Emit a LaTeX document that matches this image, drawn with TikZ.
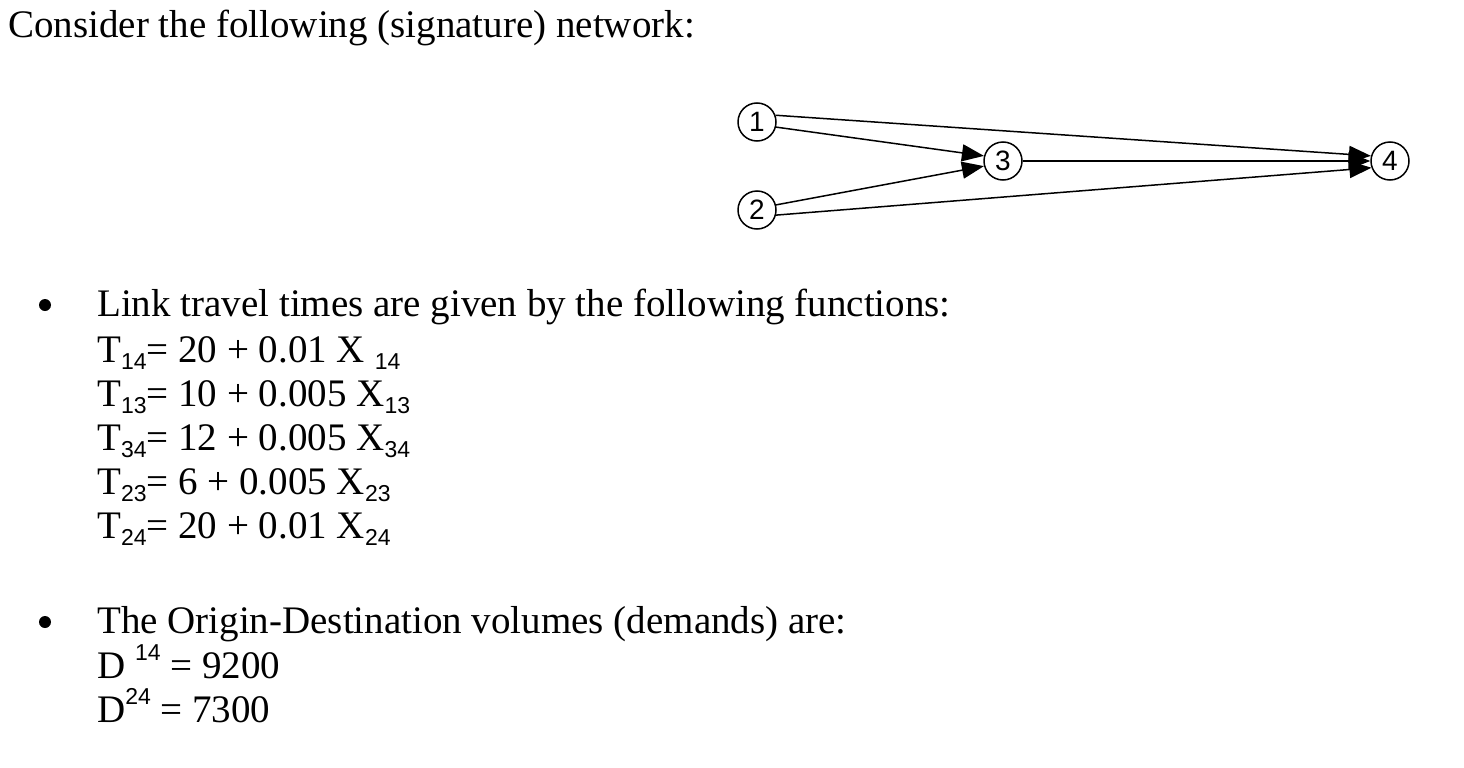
\documentclass[tikz,border=0pt]{standalone}
\usepackage{fontspec}
\setmainfont{Liberation Serif}
\newfontfamily\sans{Liberation Sans}
\usetikzlibrary{arrows.meta}
\newcommand{\mysb}[1]{\raisebox{-0.2em}{\sans\fontsize{23}{23}\selectfont #1}}
\newcommand{\mysp}[1]{\raisebox{0.45em}{\sans\fontsize{23}{23}\selectfont #1}}
\begin{document}
\begin{tikzpicture}[x=1pt,y=-1pt,
  nd/.style={circle,draw,line width=1.5pt,minimum size=38pt,inner sep=0pt,font=\sans\fontsize{28}{28}\selectfont},
  ar/.style={line width=1.5pt,-{Triangle[length=22pt,width=17pt]}},
  tx/.style={anchor=base west,inner sep=0pt,font=\fontsize{39}{39}\selectfont},
  bl/.style={circle,fill,inner sep=0pt,minimum size=12pt}]
\useasboundingbox (0,0) rectangle (1464,768);
\node[tx] (title) at (8,38) {Consider the following (signature) network:};
\node[nd] (n1) at (757,122) {1};
\node[nd] (n2) at (757,210) {2};
\node[nd] (n3) at (1003,161) {3};
\node[nd] (n4) at (1390,161) {4};
\draw[ar] (n1.20) -- (n4.165);
\draw[ar] (n1.-15) -- (n3.165);
\draw[ar] (n3.east) -- (n4.west);
\draw[ar] (n2.15) -- (n3.-165);
\draw[ar] (n2.-15) -- (n4.-160);
\node[bl] (b1) at (45,305) {};
\node[bl] (b2) at (45,622) {};
\node[tx] (l0) at (97,316) {Link travel times are given by the following functions:};
\node[tx] (l1) at (97,362) {T\mysb{14}= 20 + 0.01 X \mysb{14}};
\node[tx] (l2) at (97,406) {T\mysb{13}= 10 + 0.005 X\mysb{13}};
\node[tx] (l3) at (97,450) {T\mysb{34}= 12 + 0.005 X\mysb{34}};
\node[tx] (l4) at (97,494) {T\mysb{23}= 6 + 0.005 X\mysb{23}};
\node[tx] (l5) at (97,538) {T\mysb{24}= 20 + 0.01 X\mysb{24}};
\node[tx] (m0) at (97,633) {The Origin-Destination volumes (demands) are:};
\node[tx] (m1) at (97,678) {D \mysp{14} = 9200};
\node[tx] (m2) at (97,722) {D\mysp{24} = 7300};
\end{tikzpicture}
\end{document}
